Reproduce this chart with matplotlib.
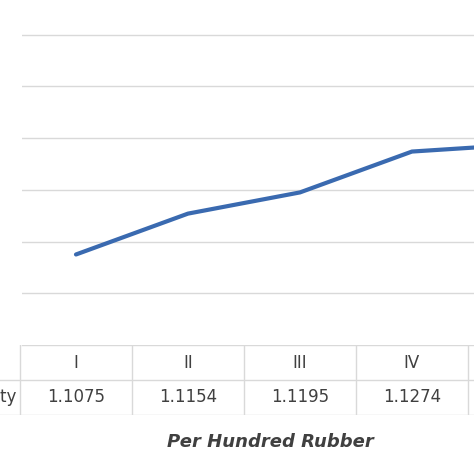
import matplotlib.pyplot as plt

categories = ['I', 'II', 'III', 'IV', 'V']
density = [1.1075, 1.1154, 1.1195, 1.1274, 1.1288]
labels = ['1.1075', '1.1154', '1.1195', '1.1274', '1.1288']
grid_vals = [1.10, 1.11, 1.12, 1.13, 1.14, 1.15]

W = H = 474.0
fig = plt.figure(figsize=(4.74, 4.74), dpi=100)
grey = '#d9d9d9'

# plot area: pixel x 22..474, y 0..345
ax = fig.add_axes([22 / W, 1 - 345 / H, 1 - 22 / W, 345 / H])
xlo, xhi = -0.482, 3.554
ax.set_xlim(xlo, xhi)
ax.set_ylim(1.09, 1.1567)
for g in grid_vals:
    ax.axhline(g, color=grey, lw=1)
ax.plot(range(len(density)), density, color='#3a6ab0', lw=3, solid_capstyle='round')
ax.axis('off')

# data table below the plot
tb = fig.add_axes([0, 1 - 415 / H, 1, 70 / H])
tb.set_xlim(xlo - 22 / 112, xhi)
tb.set_ylim(0, 2)
tb.axis('off')
tb.plot([xlo, xhi], [2, 2], color=grey, lw=1)
tb.plot([xlo - 1, xhi], [1, 1], color=grey, lw=1)
tb.plot([xlo - 1, xhi], [0, 0], color=grey, lw=1)
for i in range(len(categories)):
    tb.plot([i - 0.5, i - 0.5], [0, 2], color=grey, lw=1)
    tb.text(i, 1.5, categories[i], ha='center', va='center', fontsize=12, color='#404040')
    tb.text(i, 0.5, labels[i], ha='center', va='center', fontsize=12, color='#404040')
tb.text(xlo - 0.05, 0.5, 'Density', ha='right', va='center', fontsize=12, color='#404040')

fig.text(270 / W, 1 - 442 / H, 'Per Hundred Rubber', ha='center', va='center',
         fontsize=13, fontweight='bold', fontstyle='italic', color='#404040')

fig.savefig('out.png', dpi=100)
